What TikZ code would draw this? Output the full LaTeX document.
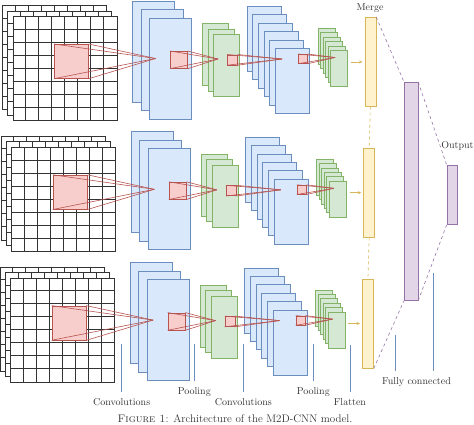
\documentclass[tikz,border=0pt]{standalone}
\usetikzlibrary{arrows.meta}

\definecolor{convfill}{HTML}{DAE8FC}
\definecolor{convline}{HTML}{6C8EBF}
\definecolor{poolfill}{HTML}{D5E8D4}
\definecolor{poolline}{HTML}{82B366}
\definecolor{patchfill}{HTML}{F8CECC}
\definecolor{patchline}{HTML}{B85450}
\definecolor{mergefill}{HTML}{FFF2CC}
\definecolor{mergeline}{HTML}{D6B656}
\definecolor{densefill}{HTML}{E1D5E7}
\definecolor{denseline}{HTML}{9673A6}
\definecolor{txt}{HTML}{333333}

\tikzset{
  box/.style={anchor=north west, inner sep=0pt, line width=0.7pt},
  gridsq/.style={box, draw=txt, fill=white, minimum size=104pt},
  gridline/.style={txt, line width=0.7pt},
  conv/.style={box, draw=convline, fill=convfill},
  pool/.style={box, draw=poolline, fill=poolfill},
  patch/.style={box, draw=patchline, fill=patchfill},
  merge/.style={box, draw=mergeline, fill=mergefill},
  dense/.style={box, draw=denseline, fill=densefill},
  ray/.style={patchline, line width=0.6pt},
  feed/.style={mergeline, line width=0.6pt, -{Stealth[length=3.5pt,width=3pt]}},
  link/.style={line width=0.6pt, dash pattern=on 3pt off 3pt},
  tick/.style={convline, line width=0.6pt},
  lbl/.style={text=txt, font=\fontsize{10}{12}\selectfont, anchor=base, inner ysep=6pt},
}

\begin{document}
\begin{tikzpicture}[x=1pt, y=-1pt]
  \useasboundingbox (0,0) rectangle (474,424);

  \foreach \r in {0,1,2} {
  \begin{scope}[shift={(-1.2*\r,130.8*\r)}]
    % input maps
    \foreach \k/\ox/\oy in {0/2/5, 1/7.3/10.6, 2/12.6/16.2} {
      \node[gridsq] (g\r\k) at (\ox,\oy) {};
      \foreach \c in {1,...,7} {
        \draw[gridline] (\ox+13*\c,\oy) -- ++(0,104);
        \draw[gridline] (\ox,\oy+13*\c) -- ++(104,0);
      }
    }
    % feature maps
    \foreach \i in {0,1,2}
      \node[conv, minimum width=42pt, minimum height=101pt] (c\r\i) at (132+8.5*\i,0.5+8.5*\i) {};
    \foreach \i in {0,1,2}
      \node[pool, minimum width=26pt, minimum height=62pt] (p\r\i) at (202+5.5*\i,23+5.5*\i) {};
    \foreach \i in {0,...,5}
      \node[conv, minimum width=34pt, minimum height=65pt] (d\r\i) at (246.5+5.7*\i,6+8.4*\i) {};
    \foreach \i in {0,...,5}
      \node[pool, minimum width=17pt, minimum height=36pt] (q\r\i) at (317.5+2.5*\i,28+4.4*\i) {};
    \node[merge, minimum width=11pt, minimum height=89pt] (m\r) at (364.5,17) {};
    \draw[feed, shorten <=3pt, shorten >=2pt] (q\r5.east |- m\r.west) -- (m\r.west);

    % receptive fields
    \node[patch, minimum size=34pt] (k\r0) at (54,44) {};
    \node[patch, minimum size=17pt] (k\r1) at (170,51) {};
    \node[patch, minimum size=10pt] (k\r2) at (227,54.5) {};
    \node[patch, minimum size=9pt] (k\r3) at (298,54) {};
    \coordinate (a\r0) at (155.5,58.5);
    \coordinate (a\r1) at (218,59);
    \coordinate (a\r2) at (282,59);
    \coordinate (a\r3) at (335,57.5);
    \foreach \j in {0,...,3}
      \foreach \cn in {north west,north east,south west,south east}
        \draw[ray] (k\r\j.\cn) -- (a\r\j);
  \end{scope}
  }

  \node[dense, minimum width=13.5pt, minimum height=218pt] (fc) at (404,82) {};
  \node[dense, minimum width=10pt, minimum height=59pt] (out) at (446.7,165) {};
  \draw[link, mergeline] (m0.south) -- (m1.north);
  \draw[link, mergeline] (m1.south) -- (m2.north);
  \draw[link, denseline] (m0.north east) -- (fc.north west);
  \draw[link, denseline] (m2.south east) -- (fc.south west);
  \draw[link, denseline] (fc.north east) -- (out.north west);
  \draw[link, denseline] (fc.south east) -- (out.south west);

  \node[lbl] (mg) at (370,10.8) {Merge};
  \node[lbl] (ot) at (457.5,148.5) {Output};

  % layer names
  \coordinate (t1) at (121.7,343.5);
  \coordinate (t2) at (194.3,344);
  \coordinate (t3) at (243.3,344);
  \coordinate (t4) at (313.3,344);
  \coordinate (t5) at (350,345);
  \coordinate (t6) at (395.7,335);
  \coordinate (t7) at (433.3,273);
  \node[lbl] (l1) at (121.7,405.5) {Convolutions};
  \node[lbl] (l2) at (194.3,394.5) {Pooling};
  \node[lbl] (l3) at (243.3,405.5) {Convolutions};
  \node[lbl] (l4) at (313.3,394.5) {Pooling};
  \node[lbl] (l5) at (350,405) {Flatten};
  \node[lbl] (l6) at (416.5,384) {Fully connected};
  \draw[tick] (t1) -- (l1);
  \draw[tick] (t2) -- (l2);
  \draw[tick] (t3) -- (l3);
  \draw[tick] (t4) -- (l4);
  \draw[tick] (t5) -- (l5);
  \draw[tick] (t6) -- (t6 |- l6.north);
  \draw[tick] (t7) -- (t7 |- l6.north);

  \node[lbl, font=\fontsize{11}{13}\selectfont, inner ysep=0pt] (cap) at (235,422.3) {\textsc{Figure 1}: Architecture of the M2D-CNN model.};
\end{tikzpicture}
\end{document}
